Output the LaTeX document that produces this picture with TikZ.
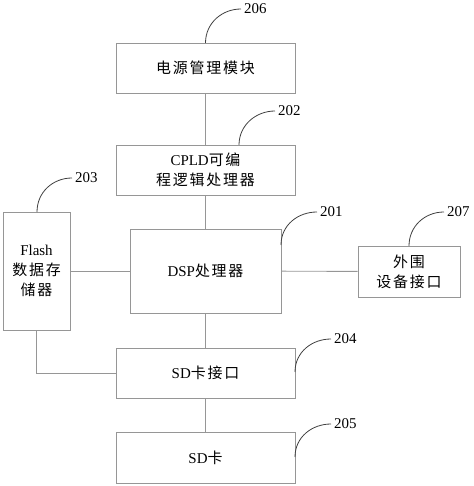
\documentclass[tikz,border=0pt]{standalone}
\usepackage{fontspec}
\setmainfont{Liberation Serif}
\newfontfamily\cjk[LetterSpace=12]{Noto Sans CJK SC}
\definecolor{ln}{RGB}{150,150,150}
\tikzset{
  blk/.style={draw=ln, line width=0.9bp, fill=white, inner sep=0pt, align=center, font=\fontsize{15}{20}\selectfont},
  wire/.style={draw=ln, line width=0.9bp},
  lead/.style={draw=black!75, line width=0.8bp},
  num/.style={font=\fontsize{15}{18}\selectfont, inner sep=0pt, anchor=west}
}
\begin{document}
\begin{tikzpicture}[x=1bp,y=-1bp]
\useasboundingbox (0,0) rectangle (474,486);
% boxes
\node[blk, minimum width=179bp, minimum height=50bp] (pm) at (205.5,68) {\cjk 电源管理模块};
\node[blk, minimum width=179bp, minimum height=50bp] (cpld) at (205.5,170) {CPLD\cjk 可编\\\cjk 程逻辑处理器};
\node[blk, minimum width=151bp, minimum height=84bp] (dsp) at (205.5,271) {DSP\cjk 处理器};
\node[blk, minimum width=67bp, minimum height=118bp] (fl) at (36.5,271) {Flash\\\cjk 数据存\\\cjk 储器};
\node[blk, minimum width=102bp, minimum height=51bp] (wi) at (409,271.5) {\cjk 外围\\\cjk 设备接口};
\node[blk, minimum width=179bp, minimum height=50bp] (sdi) at (205.5,373) {SD\cjk 卡接口};
\node[blk, minimum width=179bp, minimum height=51bp] (sd) at (205.5,457.5) {SD\cjk 卡};
% wires
\draw[wire] (pm) -- (cpld);
\draw[wire] (cpld) -- (dsp);
\draw[wire] (dsp) -- (sdi);
\draw[wire] (sdi) -- (sd);
\draw[wire] (fl) -- (dsp);
\draw[wire] (dsp) -- (wi);
\draw[wire] (fl.south) |- (sdi.west);
% labels
\node[num] (n206) at (244,9) {206};
\node[num] (n202) at (278,111) {202};
\node[num] (n203) at (75,178) {203};
\node[num] (n201) at (320,212) {201};
\node[num] (n207) at (447,212) {207};
\node[num] (n204) at (334,339) {204};
\node[num] (n205) at (334,424) {205};
% leaders
\coordinate (a206) at (205.5,43);
\coordinate (a202) at (239,145);
\coordinate (a203) at (37,212);
\coordinate (a201) at (281,245);
\coordinate (a207) at (409,246);
\coordinate (a204) at (295,372);
\coordinate (a205) at (295,457);
\foreach \a/\n in {a206/n206,a202/n202,a203/n203,a201/n201,a207/n207,a204/n204,a205/n205}{
  \draw[lead] (\a) .. controls ([yshift=20bp]\a) and ([xshift=-22bp]\n.west) .. ([xshift=-3bp]\n.west);
}
\end{tikzpicture}
\end{document}
